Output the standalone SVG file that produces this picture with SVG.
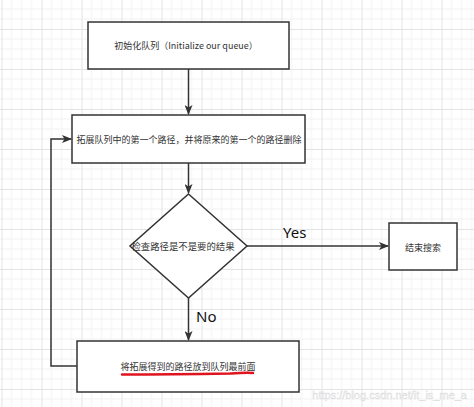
<svg xmlns="http://www.w3.org/2000/svg" width="474" height="407" viewBox="0 0 474 407">
<defs>
<pattern id="grid" patternUnits="userSpaceOnUse" x="1.5" y="29" width="40" height="40">
<rect width="40" height="40" fill="#ffffff"/>
<path d="M10 0V40M20 0V40M30 0V40M0 10H40M0 20H40M0 30H40" stroke="#f2f2f2" stroke-width="1" fill="none"/>
<path d="M0.5 0V40M0 0.5H40" stroke="#e3e3e3" stroke-width="1" fill="none"/>
</pattern>
<marker id="arr" markerWidth="10" markerHeight="8" refX="9" refY="4" orient="auto" markerUnits="userSpaceOnUse">
<path d="M0 0L10 4L0 8L2.5 4Z" fill="#333333"/>
</marker>
<style>
.box{fill:#ffffff;stroke:#333333;stroke-width:1.5}
.lbl{font-family:"Microsoft YaHei","Noto Sans CJK SC","Noto Sans",sans-serif;font-size:9px;fill:#333333;text-anchor:middle;dominant-baseline:central}
.yn{font-family:"Noto Sans","Liberation Sans",sans-serif;font-size:15px;fill:#111111}
.conn{fill:none;stroke:#333333;stroke-width:1.5}
</style>
</defs>
<rect width="474" height="407" fill="url(#grid)"/>
<g id="connectors">
<path class="conn" d="M188.5 69V114" marker-end="url(#arr)"/>
<path class="conn" d="M188.5 163V193" marker-end="url(#arr)"/>
<path class="conn" d="M247 246H388" marker-end="url(#arr)"/>
<path class="conn" d="M188.5 298V340" marker-end="url(#arr)"/>
<path class="conn" d="M77 366H51V139H71" marker-end="url(#arr)"/>
<text class="yn" x="283" y="238">Yes</text>
<text class="yn" x="196" y="322">No</text>
</g>
<g id="init">
<rect class="box" x="88" y="22" width="201" height="47"/>
<text class="lbl" x="186" y="45.5">初始化队列（Initialize our queue）</text>
</g>
<g id="expand">
<rect class="box" x="72" y="115" width="233" height="48"/>
<text class="lbl" x="189" y="139">拓展队列中的第一个路径，并将原来的第一个的路径删除</text>
</g>
<g id="check">
<polygon class="box" points="188.5,194 247,246 188.5,298 130,246"/>
<text class="lbl" x="183" y="246" style="font-size:9.4px">检查路径是不是要的结果</text>
</g>
<g id="end">
<rect class="box" x="389" y="223" width="68" height="47"/>
<text class="lbl" x="423" y="247">结束搜索</text>
</g>
<g id="prepend">
<rect class="box" x="77" y="341" width="222" height="51"/>
<text class="lbl" x="188" y="366">将拓展得到的路径放到队列最前面</text>
<path d="M122 374.5C160 374.5 200 374 230 373.5C238 373 245 372.5 253 373" fill="none" stroke="#e0141e" stroke-width="2.5" stroke-linecap="round"/>
</g>
<text x="467" y="399" font-family="Liberation Sans, sans-serif" font-size="11" fill="#ececec" stroke="#d8d8d8" stroke-width="0.3" text-anchor="end">https://blog.csdn.net/it_is_me_a</text>
</svg>
